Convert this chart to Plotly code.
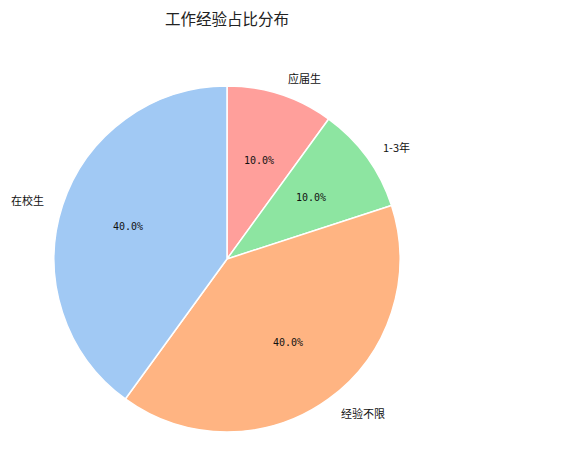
import math
import plotly.graph_objects as go

labels = ["在校生", "经验不限", "1-3年", "应届生"]
values = [40, 40, 10, 10]
colors = ["#a1c9f4", "#ffb482", "#8de5a1", "#ff9f9b"]
title = "工作经验占比分布"

W, H = 565, 467
cx, cy, r = 227, 259, 173  # pie centre / radius in px
dom_x = [(cx - r) / W, (cx + r) / W]
dom_y = [1 - (cy + r) / H, 1 - (cy - r) / H]

font = "Noto Sans CJK SC, SimHei, sans-serif"
mono = "DejaVu Sans Mono, monospace"

# draw clockwise from 12 o'clock with reversed order (same as matplotlib ccw from 90°)
lab_r = labels[::-1]
val_r = values[::-1]
col_r = colors[::-1]

fig = go.Figure(go.Pie(
    labels=lab_r, values=val_r, sort=False,
    direction="clockwise", rotation=0,
    marker=dict(colors=col_r, line=dict(color="white", width=1.5)),
    textinfo="none", hoverinfo="label+percent",
    domain=dict(x=dom_x, y=dom_y), showlegend=False,
))

total = sum(values)
start = 90.0
annotations = []
for lab, v in zip(labels, values):
    span = 360.0 * v / total
    mid = math.radians(start + span / 2)
    start += span
    px = cx + 0.6 * r * math.cos(mid)
    py = cy - 0.6 * r * math.sin(mid)
    annotations.append(dict(x=px / W, y=1 - py / H, xref="paper", yref="paper",
                            text=f"{100 * v / total:.1f}%", showarrow=False,
                            xanchor="center", yanchor="middle",
                            font=dict(family=mono, size=10, color="#111")))
    lx = cx + 1.1 * r * math.cos(mid)
    ly = cy - 1.1 * r * math.sin(mid)
    annotations.append(dict(x=lx / W, y=1 - ly / H, xref="paper", yref="paper",
                            text=lab, showarrow=False,
                            xanchor="left" if math.cos(mid) >= 0 else "right",
                            yanchor="middle",
                            font=dict(family=font, size=11, color="#111")))

annotations.append(dict(x=cx / W, y=1 - 18 / H, xref="paper", yref="paper",
                        text=title, showarrow=False, xanchor="center", yanchor="middle",
                        font=dict(family=font, size=15.5, color="#222")))

fig.update_layout(width=W, height=H, margin=dict(l=0, r=0, t=0, b=0),
                  paper_bgcolor="white", plot_bgcolor="white",
                  annotations=annotations)
fig.write_html("out.html", config={"displayModeBar": False},
               post_script="document.body.style.margin='0';document.body.style.overflow='hidden';")
